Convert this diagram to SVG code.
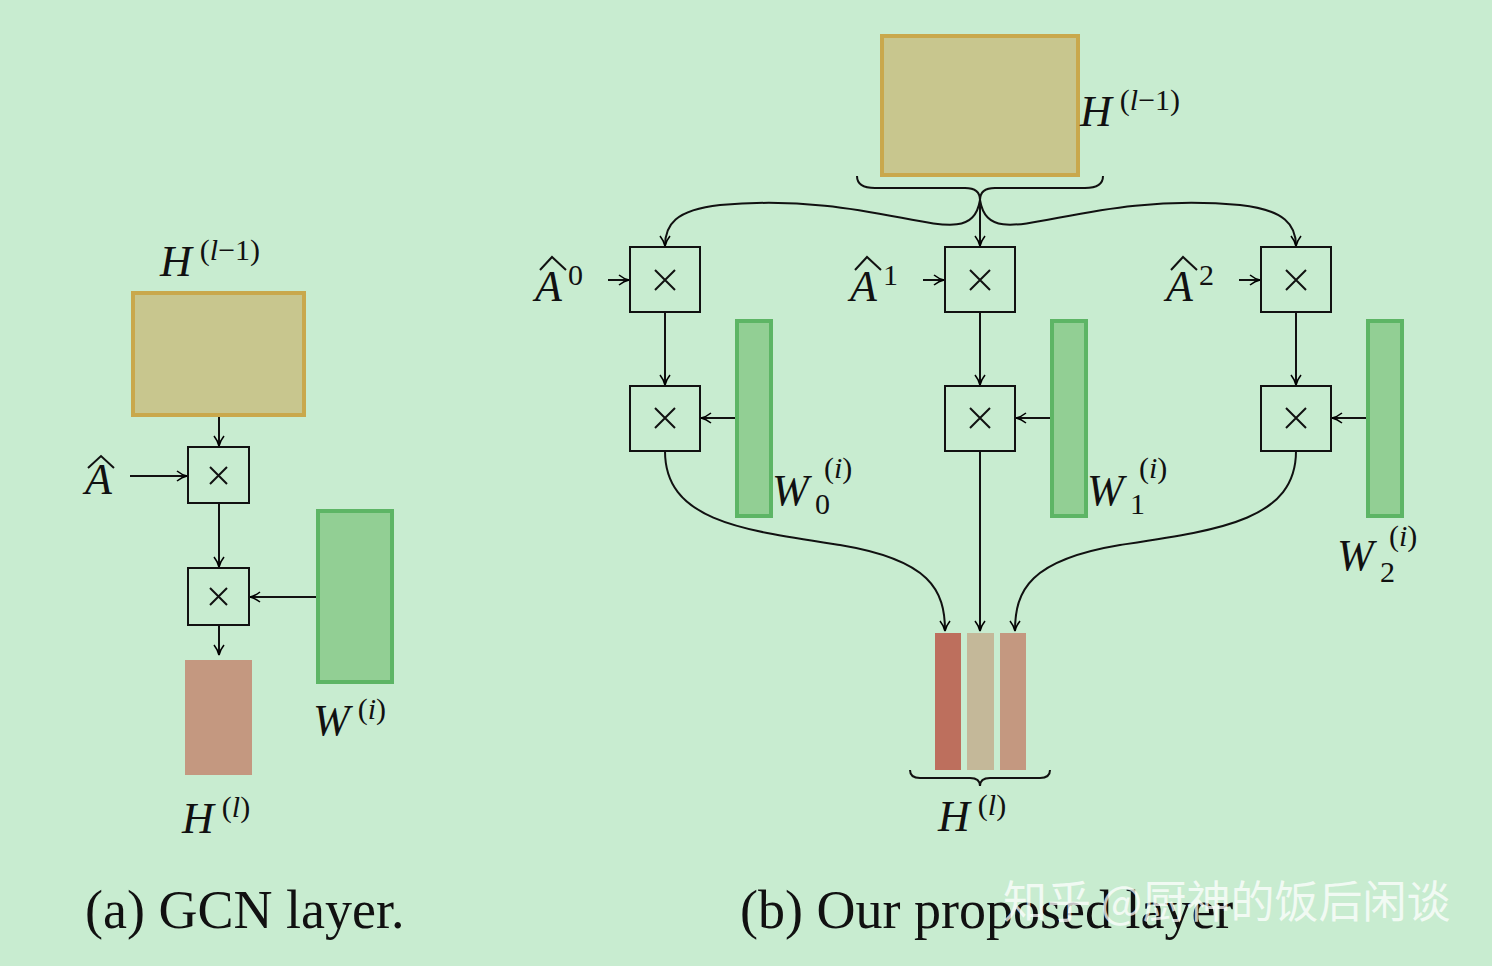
<svg xmlns="http://www.w3.org/2000/svg" width="1492" height="966" viewBox="0 0 1492 966">
<defs>
<marker id="ar" viewBox="0 0 12 12" refX="11" refY="6" markerWidth="12" markerHeight="12" markerUnits="userSpaceOnUse" orient="auto"><path d="M1,1 Q6,5 11,6 Q6,7 1,11" fill="none" stroke="#000" stroke-width="1.6"/></marker>
<style>
.ln{fill:none;stroke:#111;stroke-width:2;marker-end:url(#ar)}
.br{fill:none;stroke:#111;stroke-width:2}
.mb{fill:none;stroke:#111;stroke-width:2}
.x{stroke:#111;stroke-width:2}
.tan{fill:#c8c68e;stroke:#c9a84c;stroke-width:4}
.gr{fill:#92cf94;stroke:#5db565;stroke-width:4}
.m{font-family:"Liberation Serif",serif;font-style:italic;font-size:44px;fill:#111}
.s{font-family:"Liberation Serif",serif;font-style:normal;font-size:30px;fill:#111}
.i{font-style:italic}
.cap{font-family:"Liberation Serif",serif;font-size:54px;fill:#111}
</style>
</defs>
<rect width="1492" height="966" fill="#c8ecd0"/>
<g id="connectors">
<line class="ln" x1="219" y1="415" x2="219" y2="446"/>
<line class="ln" x1="130" y1="476" x2="187" y2="476"/>
<line class="ln" x1="219" y1="503" x2="219" y2="567"/>
<line class="ln" x1="318" y1="597" x2="250" y2="597"/>
<line class="ln" x1="219" y1="625" x2="219" y2="655"/>
<path class="br" d="M857,176 Q857,188 875,188 L965,188 Q980,188 980,200 Q980,188 995,188 L1085,188 Q1103,188 1103,176"/>
<path class="ln" d="M980,200 C970,260 890,190 720,205 C675,210 665,225 665,246"/>
<line class="ln" x1="980" y1="200" x2="980" y2="246"/>
<path class="ln" d="M980,200 C990,260 1070,190 1240,205 C1285,210 1296,225 1296,246"/>
<line class="ln" x1="608" y1="280" x2="629" y2="280"/>
<line class="ln" x1="923" y1="280" x2="944" y2="280"/>
<line class="ln" x1="1239" y1="280" x2="1260" y2="280"/>
<line class="ln" x1="665" y1="312" x2="665" y2="385"/>
<line class="ln" x1="980" y1="312" x2="980" y2="385"/>
<line class="ln" x1="1296" y1="312" x2="1296" y2="385"/>
<line class="ln" x1="737" y1="418" x2="701" y2="418"/>
<line class="ln" x1="1052" y1="418" x2="1016" y2="418"/>
<line class="ln" x1="1368" y1="418" x2="1332" y2="418"/>
<path class="ln" d="M665,451 C665,520 740,530 840,545 C930,560 945,590 945,631"/>
<line class="ln" x1="980" y1="451" x2="980" y2="631"/>
<path class="ln" d="M1296,451 C1296,520 1220,530 1120,545 C1030,560 1015,590 1015,631"/>
<path class="br" d="M910,770 Q910,778 920,778 L970,778 Q980,778 980,786 Q980,778 990,778 L1040,778 Q1050,778 1050,770"/>
</g>
<g id="left-H-in"><rect class="tan" x="133" y="293" width="171" height="122"/><text class="m" x="160" y="276">H<tspan class="s" dx="8" dy="-16">(<tspan class="i">l</tspan>−1)</tspan></text></g>
<g id="left-mul1"><rect class="mb" x="188" y="447" width="61" height="56"/><path class="x" d="M210,467 L227,484 M227,467 L210,484"/></g>
<g id="left-A"><text class="m" x="85" y="494">A</text><path class="br" d="M88,468 L101,456 L114,468"/></g>
<g id="left-mul2"><rect class="mb" x="188" y="568" width="61" height="57"/><path class="x" d="M210,588 L227,605 M227,588 L210,605"/></g>
<g id="left-W"><rect class="gr" x="318" y="511" width="74" height="171"/><text class="m" x="313" y="735">W<tspan class="s" dx="8" dy="-16">(<tspan class="i">i</tspan>)</tspan></text></g>
<g id="left-H-out"><rect x="185" y="660" width="67" height="115" fill="#c49880"/><text class="m" x="182" y="833">H<tspan class="s" dx="8" dy="-16">(<tspan class="i">l</tspan>)</tspan></text></g>
<text class="cap" x="85" y="928">(a) GCN layer.</text>

<g id="right-H-in"><rect class="tan" x="882" y="36" width="196" height="139"/><text class="m" x="1080" y="126">H<tspan class="s" dx="8" dy="-16">(<tspan class="i">l</tspan>−1)</tspan></text></g>
<g id="mul-a0"><rect class="mb" x="630" y="247" width="70" height="65"/><path class="x" d="M655,270 L675,290 M675,270 L655,290"/>
<text class="m" x="535" y="301">A<tspan class="s" dx="6" dy="-16">0</tspan></text><path class="br" d="M540,270 L552,257 L566,270"/></g>
<g id="mul-a1"><rect class="mb" x="945" y="247" width="70" height="65"/><path class="x" d="M970,270 L990,290 M990,270 L970,290"/>
<text class="m" x="850" y="301">A<tspan class="s" dx="6" dy="-16">1</tspan></text><path class="br" d="M855,270 L867,257 L881,270"/></g>
<g id="mul-a2"><rect class="mb" x="1261" y="247" width="70" height="65"/><path class="x" d="M1286,270 L1306,290 M1306,270 L1286,290"/>
<text class="m" x="1166" y="301">A<tspan class="s" dx="6" dy="-16">2</tspan></text><path class="br" d="M1171,270 L1183,257 L1197,270"/></g>
<g id="mul-w0"><rect class="mb" x="630" y="386" width="70" height="65"/><path class="x" d="M655,408 L675,428 M675,408 L655,428"/></g>
<g id="mul-w1"><rect class="mb" x="945" y="386" width="70" height="65"/><path class="x" d="M970,408 L990,428 M990,408 L970,428"/></g>
<g id="mul-w2"><rect class="mb" x="1261" y="386" width="70" height="65"/><path class="x" d="M1286,408 L1306,428 M1306,408 L1286,428"/></g>
<g id="W0"><rect class="gr" x="737" y="321" width="34" height="195"/><text class="m" x="772" y="505">W</text><text class="s" x="824" y="478">(<tspan class="i">i</tspan>)</text><text class="s" x="815" y="514">0</text></g>
<g id="W1"><rect class="gr" x="1052" y="321" width="34" height="195"/><text class="m" x="1087" y="505">W</text><text class="s" x="1139" y="478">(<tspan class="i">i</tspan>)</text><text class="s" x="1130" y="514">1</text></g>
<g id="W2"><rect class="gr" x="1368" y="321" width="34" height="195"/><text class="m" x="1337" y="570">W</text><text class="s" x="1389" y="546">(<tspan class="i">i</tspan>)</text><text class="s" x="1380" y="582">2</text></g>
<g id="H-out"><rect x="935" y="633" width="26" height="137" fill="#bd6f5d"/><rect x="967" y="633" width="27" height="137" fill="#c4b899"/><rect x="1000" y="633" width="26" height="137" fill="#c49880"/>
<text class="m" x="938" y="831">H<tspan class="s" dx="8" dy="-16">(<tspan class="i">l</tspan>)</tspan></text></g>
<text class="cap" x="740" y="928">(b) Our proposed layer</text>
<text x="1003" y="918" font-family="'Noto Sans CJK SC',sans-serif" font-size="44" fill="#ffffff" fill-opacity="0.75">知乎 @厨神的饭后闲谈</text>
</svg>
